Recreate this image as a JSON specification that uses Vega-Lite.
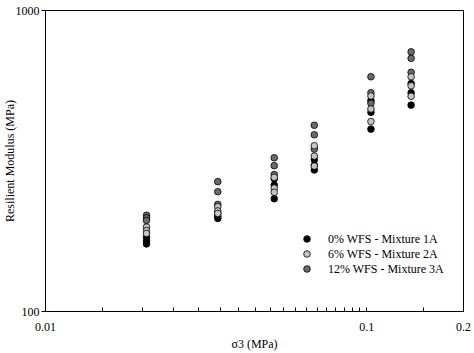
{
  "$schema": "https://vega.github.io/schema/vega-lite/v6.json",
  "autosize": {"type": "none"},
  "width": 418,
  "height": 301,
  "padding": {"left": 45, "top": 10, "right": 11, "bottom": 42},
  "background": "white",
  "config": {
    "view": {"stroke": "#000", "strokeWidth": 1},
    "font": "Liberation Serif",
    "axis": {"grid": false, "domainColor": "#000", "tickColor": "#000", "labelColor": "#000", "titleColor": "#000", "labelFont": "Liberation Serif", "titleFont": "Liberation Serif", "labelFontSize": 12, "titleFontSize": 12, "titleFontWeight": "normal"},
    "legend": {"labelFont": "Liberation Serif", "labelFontSize": 12, "labelColor": "#000"}
  },
  "data": {"values": [
    {"s3": 0.0207, "mr": 176, "mix": "0% WFS - Mixture 1A"},
    {"s3": 0.0207, "mr": 171, "mix": "0% WFS - Mixture 1A"},
    {"s3": 0.0207, "mr": 167, "mix": "0% WFS - Mixture 1A"},
    {"s3": 0.0345, "mr": 210, "mix": "0% WFS - Mixture 1A"},
    {"s3": 0.0345, "mr": 206, "mix": "0% WFS - Mixture 1A"},
    {"s3": 0.0345, "mr": 203, "mix": "0% WFS - Mixture 1A"},
    {"s3": 0.0517, "mr": 275, "mix": "0% WFS - Mixture 1A"},
    {"s3": 0.0517, "mr": 262, "mix": "0% WFS - Mixture 1A"},
    {"s3": 0.0517, "mr": 236, "mix": "0% WFS - Mixture 1A"},
    {"s3": 0.0689, "mr": 318, "mix": "0% WFS - Mixture 1A"},
    {"s3": 0.0689, "mr": 305, "mix": "0% WFS - Mixture 1A"},
    {"s3": 0.0689, "mr": 294, "mix": "0% WFS - Mixture 1A"},
    {"s3": 0.1034, "mr": 500, "mix": "0% WFS - Mixture 1A"},
    {"s3": 0.1034, "mr": 457, "mix": "0% WFS - Mixture 1A"},
    {"s3": 0.1034, "mr": 402, "mix": "0% WFS - Mixture 1A"},
    {"s3": 0.1379, "mr": 570, "mix": "0% WFS - Mixture 1A"},
    {"s3": 0.1379, "mr": 531, "mix": "0% WFS - Mixture 1A"},
    {"s3": 0.1379, "mr": 483, "mix": "0% WFS - Mixture 1A"},
    {"s3": 0.0207, "mr": 190, "mix": "6% WFS - Mixture 2A"},
    {"s3": 0.0207, "mr": 185, "mix": "6% WFS - Mixture 2A"},
    {"s3": 0.0207, "mr": 181, "mix": "6% WFS - Mixture 2A"},
    {"s3": 0.0345, "mr": 222, "mix": "6% WFS - Mixture 2A"},
    {"s3": 0.0345, "mr": 215, "mix": "6% WFS - Mixture 2A"},
    {"s3": 0.0345, "mr": 211, "mix": "6% WFS - Mixture 2A"},
    {"s3": 0.0517, "mr": 278, "mix": "6% WFS - Mixture 2A"},
    {"s3": 0.0517, "mr": 256, "mix": "6% WFS - Mixture 2A"},
    {"s3": 0.0517, "mr": 248, "mix": "6% WFS - Mixture 2A"},
    {"s3": 0.0689, "mr": 354, "mix": "6% WFS - Mixture 2A"},
    {"s3": 0.0689, "mr": 327, "mix": "6% WFS - Mixture 2A"},
    {"s3": 0.0689, "mr": 303, "mix": "6% WFS - Mixture 2A"},
    {"s3": 0.1034, "mr": 518, "mix": "6% WFS - Mixture 2A"},
    {"s3": 0.1034, "mr": 469, "mix": "6% WFS - Mixture 2A"},
    {"s3": 0.1034, "mr": 426, "mix": "6% WFS - Mixture 2A"},
    {"s3": 0.1379, "mr": 600, "mix": "6% WFS - Mixture 2A"},
    {"s3": 0.1379, "mr": 560, "mix": "6% WFS - Mixture 2A"},
    {"s3": 0.1379, "mr": 517, "mix": "6% WFS - Mixture 2A"},
    {"s3": 0.0207, "mr": 208, "mix": "12% WFS - Mixture 3A"},
    {"s3": 0.0207, "mr": 204, "mix": "12% WFS - Mixture 3A"},
    {"s3": 0.0207, "mr": 200, "mix": "12% WFS - Mixture 3A"},
    {"s3": 0.0345, "mr": 269, "mix": "12% WFS - Mixture 3A"},
    {"s3": 0.0345, "mr": 249, "mix": "12% WFS - Mixture 3A"},
    {"s3": 0.0345, "mr": 226, "mix": "12% WFS - Mixture 3A"},
    {"s3": 0.0517, "mr": 323, "mix": "12% WFS - Mixture 3A"},
    {"s3": 0.0517, "mr": 304, "mix": "12% WFS - Mixture 3A"},
    {"s3": 0.0517, "mr": 284, "mix": "12% WFS - Mixture 3A"},
    {"s3": 0.0689, "mr": 414, "mix": "12% WFS - Mixture 3A"},
    {"s3": 0.0689, "mr": 385, "mix": "12% WFS - Mixture 3A"},
    {"s3": 0.0689, "mr": 345, "mix": "12% WFS - Mixture 3A"},
    {"s3": 0.1034, "mr": 600, "mix": "12% WFS - Mixture 3A"},
    {"s3": 0.1034, "mr": 531, "mix": "12% WFS - Mixture 3A"},
    {"s3": 0.1034, "mr": 490, "mix": "12% WFS - Mixture 3A"},
    {"s3": 0.1379, "mr": 726, "mix": "12% WFS - Mixture 3A"},
    {"s3": 0.1379, "mr": 691, "mix": "12% WFS - Mixture 3A"},
    {"s3": 0.1379, "mr": 621, "mix": "12% WFS - Mixture 3A"}
  ]},
  "mark": {"type": "point", "shape": "circle", "filled": true, "size": 44, "stroke": "#000", "strokeWidth": 0.8, "opacity": 1},
  "encoding": {
    "x": {
      "field": "s3", "type": "quantitative",
      "scale": {"type": "log", "domain": [0.01, 0.2], "nice": false},
      "axis": {
        "title": "σ3 (MPa)",
        "values": [0.01, 0.015, 0.02, 0.025, 0.03, 0.035, 0.04, 0.045, 0.05, 0.055, 0.06, 0.065, 0.07, 0.075, 0.08, 0.085, 0.09, 0.095, 0.1, 0.15, 0.2],
        "labelExpr": "datum.value == 0.01 ? '0.01' : (datum.value == 0.1 ? '0.1' : (datum.value == 0.2 ? '0.2' : ''))",
        "tickSize": -4,
        "labelPadding": 14,
        "titlePadding": 6,
        "labelFlush": false,
        "labelOverlap": false
      }
    },
    "y": {
      "field": "mr", "type": "quantitative",
      "scale": {"type": "log", "domain": [100, 1000], "nice": false},
      "axis": {
        "title": "Resilient Modulus (MPa)",
        "values": [100, 1000],
        "format": "d",
        "tickSize": 4,
        "labelPadding": 2,
        "titlePadding": -1,
        "labelFlush": false
      }
    },
    "color": {
      "field": "mix", "type": "nominal",
      "scale": {"domain": ["0% WFS - Mixture 1A", "6% WFS - Mixture 2A", "12% WFS - Mixture 3A"], "range": ["#000000", "#c4c4c4", "#6a6a6a"]},
      "legend": {"title": null, "orient": "none", "legendX": 256, "legendY": 223, "symbolStrokeColor": "#000", "symbolStrokeWidth": 0.8, "symbolSize": 44, "labelOffset": 15, "rowPadding": 3}
    },
    "order": {"field": "mix", "sort": "ascending"}
  }
}
